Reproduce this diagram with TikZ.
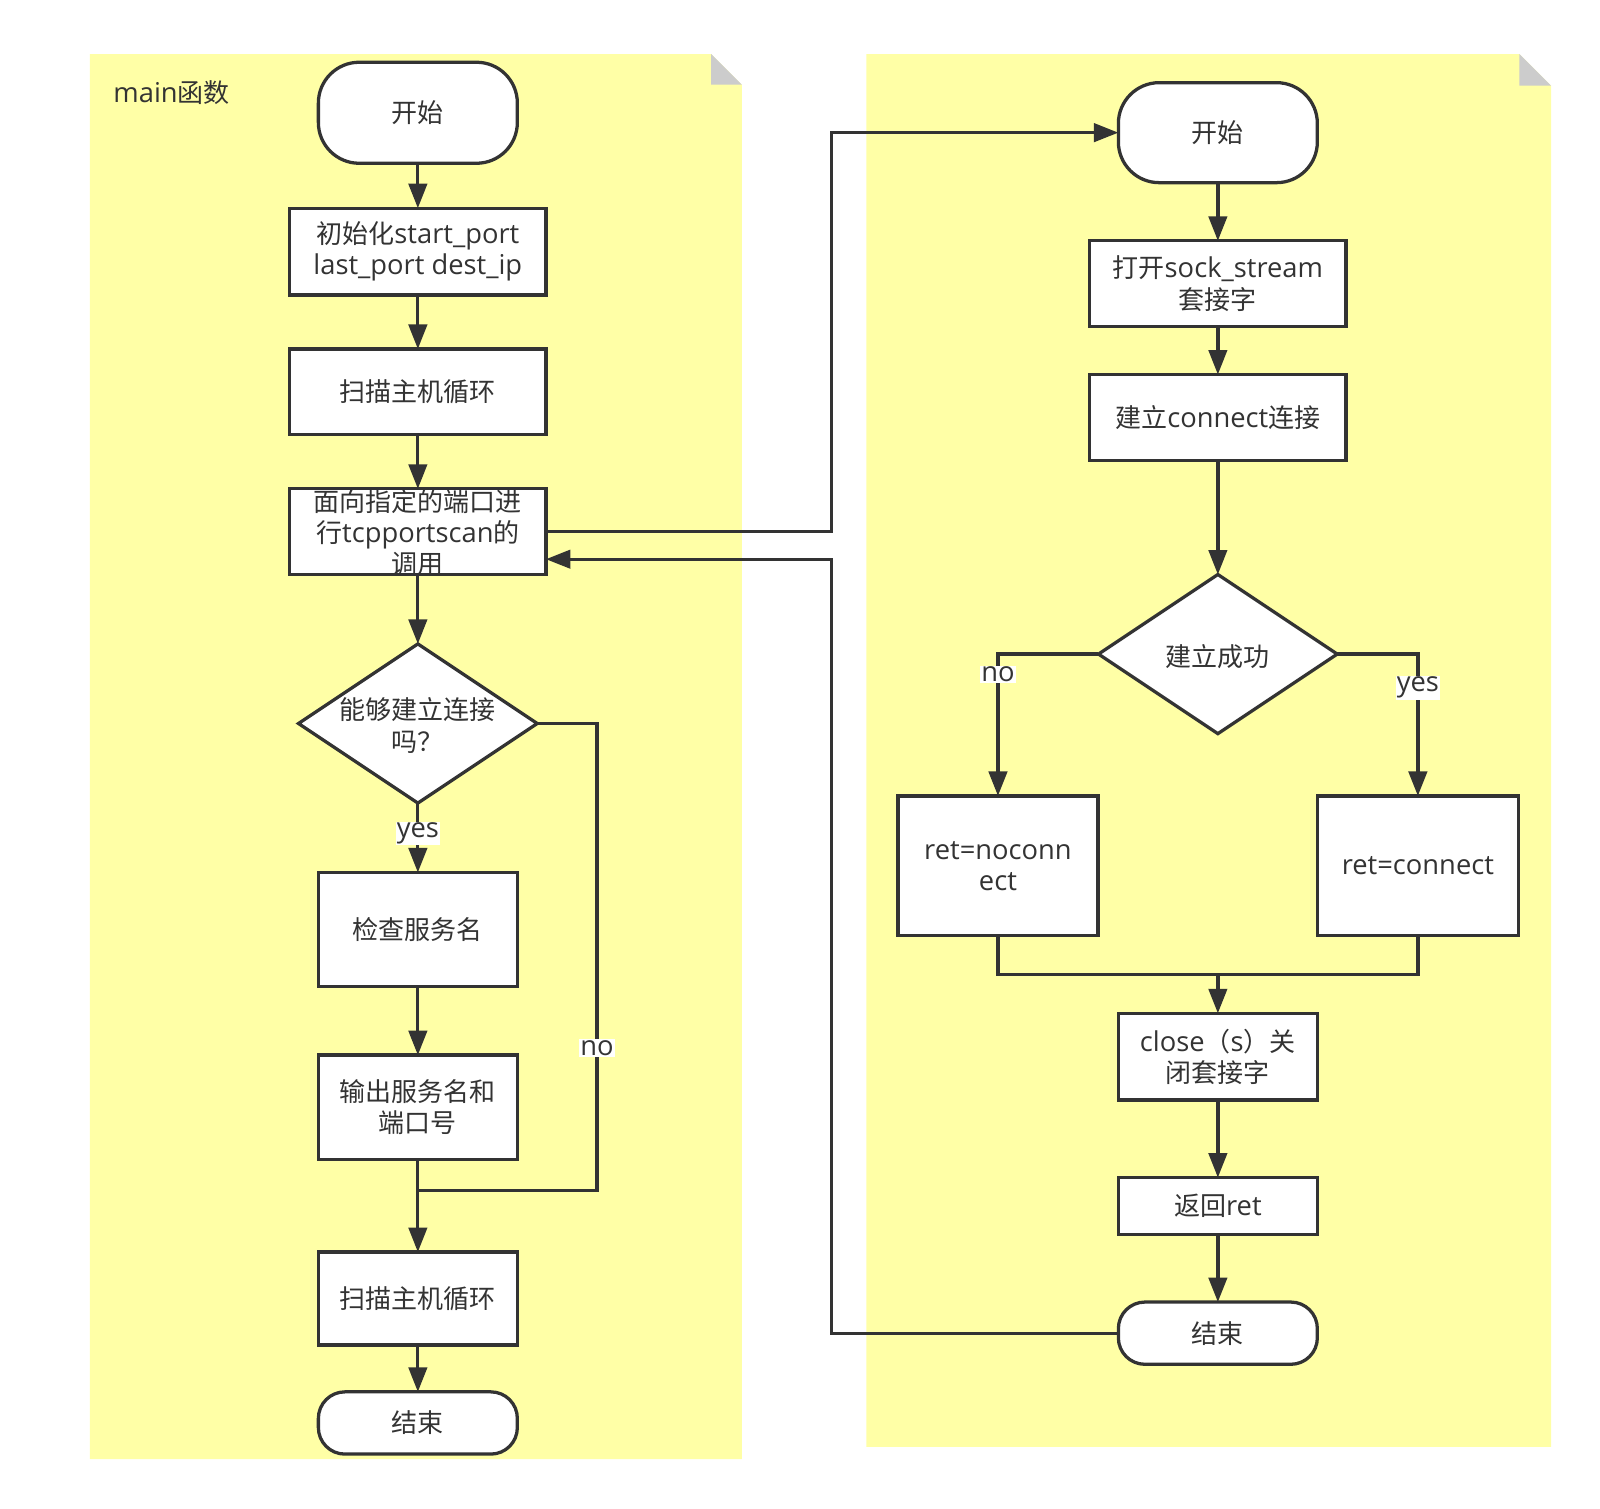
\documentclass[tikz,border=0pt]{standalone}
\usepackage{fontspec}
\setmainfont{Open Sans}[Scale=1.05]
\newfontfamily\cjk{Noto Sans CJK SC}
\usetikzlibrary{shapes.geometric,arrows.meta}
\definecolor{ln}{HTML}{333333}
\definecolor{note}{HTML}{FFFFA6}
\definecolor{fold}{HTML}{CCCCCC}
\newcommand\zh[1]{{\cjk #1}}
\newcommand\fs{\fontsize{25.5}{30.5}\selectfont}
\begin{document}
\begin{tikzpicture}[x=1pt,y=-1pt,
  box/.style={draw=ln, line width=3.2pt, fill=white, rectangle, inner sep=0pt, outer sep=0pt, align=center, text=ln, font=\fs},
  term/.style={box, rounded corners=40pt},
  termsm/.style={box, rounded corners=26pt},
  dia/.style={box, diamond},
  txt/.style={align=center, text=ln, font=\fs, inner sep=0pt},
  arr/.style={draw=ln, line width=3.2pt, -{Triangle[length=24pt,width=18pt]}},
  lnk/.style={draw=ln, line width=3.2pt},
  lbl/.style={fill=white, inner sep=1pt, text=ln, font=\fs}]
\useasboundingbox (0,0) rectangle (1568,1478);
% panels
\fill[note] (88,53) -- (697,53) -- (727,83) -- (727,1430) -- (88,1430) -- cycle;
\fill[fold] (697,53) -- (697,83) -- (727,83) -- cycle;
\fill[note] (849,53) -- (1489,53) -- (1520,84) -- (1520,1418) -- (849,1418) -- cycle;
\fill[fold] (1489,53) -- (1489,84) -- (1520,84) -- cycle;
\node[txt, anchor=west] (title) at (111,91) {main\zh{函数}};
% left column
\node[term, minimum width=195pt, minimum height=99pt] (s1) at (409.5,110.5) {\zh{开始}};
\node[box, minimum width=251pt, minimum height=85pt] (i1) at (409.5,246.5) {\zh{初始化}start\_port\\last\_port dest\_ip};
\node[box, minimum width=251pt, minimum height=84pt] (sc1) at (409.5,384) {\zh{扫描主机循环}};
\node[box, minimum width=251pt, minimum height=84pt] (call) at (409.5,521) {};
\node[txt] (callt) at (409.5,522) {\zh{面向指定的端口进}\\\zh{行}tcpportscan\zh{的}\\\zh{调用}};
\node[dia, minimum width=234pt, minimum height=156pt] (d1) at (409.5,709) {};
\node[txt] (d1t) at (409.5,711) {\zh{能够建立连接}\\\zh{吗？}};
\node[box, minimum width=195pt, minimum height=112pt] (chk) at (409.5,911) {\zh{检查服务名}};
\node[box, minimum width=195pt, minimum height=102pt] (out) at (409.5,1085) {\zh{输出服务名和}\\\zh{端口号}};
\node[box, minimum width=195pt, minimum height=91pt] (sc2) at (409.5,1272.5) {\zh{扫描主机循环}};
\node[termsm, minimum width=195pt, minimum height=61pt] (e1) at (409.5,1394.5) {\zh{结束}};
% right column
\node[term, minimum width=195pt, minimum height=98pt] (rs) at (1193.5,130) {\zh{开始}};
\node[box, minimum width=251pt, minimum height=84pt] (op) at (1193.5,278) {\zh{打开}sock\_stream\\\zh{套接字}};
\node[box, minimum width=251pt, minimum height=84pt] (cn) at (1193.5,409) {\zh{建立}connect\zh{连接}};
\node[dia, minimum width=234pt, minimum height=156pt] (d2) at (1193.5,641) {};
\node[txt] (d2t) at (1193.5,643) {\zh{建立成功}};
\node[box, minimum width=196pt, minimum height=137pt] (rno) at (978,848.5) {ret=noconn\\ect};
\node[box, minimum width=197pt, minimum height=137pt] (rc) at (1389.5,848.5) {ret=connect};
\node[box, minimum width=195pt, minimum height=85pt] (cl) at (1193.5,1035.5) {close\zh{（}s\zh{）关}\\\zh{闭套接字}};
\node[box, minimum width=195pt, minimum height=56pt] (rt) at (1193.5,1182) {\zh{返回}ret};
\node[termsm, minimum width=195pt, minimum height=61pt] (e2) at (1193.5,1306.5) {\zh{结束}};
% helper coordinates
\coordinate (busx) at (815,0);
\coordinate (lj) at (409.5,1167);
\coordinate (nox) at (585,1167);
\coordinate (mj) at (1193.5,955);
% left connectors
\draw[arr] (s1) -- (i1);
\draw[arr] (i1) -- (sc1);
\draw[arr] (sc1) -- (call);
\draw[arr] (call) -- (d1);
\draw[arr] (d1) -- (chk);
\node[lbl] (yes1) at (409.5,817) {yes};
\draw[arr] (chk) -- (out);
\draw[lnk] (d1.east) -| (nox) -- (lj);
\node[lbl] (no1) at (585,1027) {no};
\draw[arr] (out) -- (sc2);
\draw[arr] (sc2) -- (e1);
% cross connectors
\draw[arr] (call.east) -- (call.east -| busx) |- (rs.west);
\draw[arr] (e2.west) -- (e2.west -| busx) |- ([yshift=-27pt]call.east);
% right connectors
\draw[arr] (rs) -- (op);
\draw[arr] (op) -- (cn);
\draw[arr] (cn) -- (d2);
\draw[arr] (d2.west) -| (rno.north);
\node[lbl] (no2) at (978,661) {no};
\draw[arr] (d2.east) -| (rc.north);
\node[lbl] (yes2) at (1389.5,674) {yes};
\draw[lnk] (rno.south) -- ++(0,38) -| (rc.south);
\draw[arr] (mj) -- (cl);
\draw[arr] (cl) -- (rt);
\draw[arr] (rt) -- (e2);
\end{tikzpicture}
\end{document}
